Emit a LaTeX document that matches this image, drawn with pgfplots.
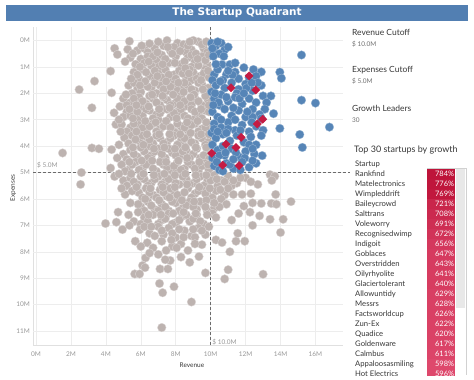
\documentclass[border=0pt]{standalone}
\usepackage{pgfplots}
\pgfplotsset{compat=1.18}
\usepackage{fontspec}
\setmainfont{Lato}
\newfontfamily\titlefont{DejaVu Sans}
\definecolor{grayPt}{RGB}{189,179,176}
\definecolor{bluePt}{RGB}{86,133,183}
\definecolor{redPt}{RGB}{196,28,68}
\definecolor{titleBlue}{RGB}{82,127,178}
\definecolor{tickGray}{RGB}{150,150,150}
\definecolor{txtDark}{RGB}{55,55,55}
\definecolor{txtMid}{RGB}{110,110,110}
\definecolor{cellDark}{RGB}{190,20,58}
\definecolor{cellLight}{RGB}{222,72,108}
\begin{document}
\begin{tikzpicture}
\begin{scope}[x=1bp,y=1bp]
\useasboundingbox (0,0) rectangle (474,379);
\fill[titleBlue] (6,358) rectangle (468,374);
\node[text=white,font=\titlefont\bfseries\fontsize{10.5}{12}\selectfont] at (237,366) {The Startup Quadrant};
\draw[black!12, line width=0.6] (33.4,34) -- (33.4,352);
\draw[black!12, line width=0.6] (33.4,34) -- (343.4,34);
\end{scope}
\begin{axis}[at={(33.4bp,34bp)}, anchor=south west, scale only axis,
  width=310bp, height=318bp,
  xmin=-0.15, xmax=17.6, ymin=-0.51, ymax=11.53, y dir=reverse,
  axis line style={draw=none},
  xtick={0,2,4,6,8,10,12,14,16},
  xticklabels={0M,2M,4M,6M,8M,10M,12M,14M,16M},
  ytick={0,1,2,3,4,5,6,7,8,9,10,11},
  yticklabels={0M,1M,2M,3M,4M,5M,6M,7M,8M,9M,10M,11M},
  tick style={draw=none},
  grid=major, grid style={draw=black!7, line width=0.5bp},
  ticklabel style={font=\fontsize{6.5}{7}\selectfont, text=tickGray},
  xticklabel style={yshift=-3bp},
  clip=false]
\addplot[only marks, mark=*, mark size=4.3bp, mark options={fill=grayPt, draw=white!45!grayPt, line width=0.35bp}] coordinates {
(5.35,0.03) (4.5,0.3) (5.25,0.34) (5.8,0.38) (6.2,0.3) (6.8,0.3) (7.3,0.2) (7.7,0.4) (8.1,0.1) (8.45,0.15) (8.9,0.35) (9.3,0.05) (9.6,0.3) (7.0,0.05) (6.5,0.12) (9.0,0.0) (9.8,0.45) (8.6,0.45) (7.5,0.0) (7.9,0.25) (8.7,0.2) (9.5,0.15) (6.4,0.45)
(4.66,0.53) (5.4,0.65) (5.1,0.8) (6.0,0.7) (6.4,0.6) (6.9,0.75) (7.2,0.55) (7.6,0.85) (8.0,0.6) (8.3,0.9) (8.7,0.65) (9.1,0.8) (9.5,0.6) (9.8,0.95) (7.0,1.0) (6.6,0.95) (8.9,1.0) (6.2,0.85) (6.7,0.6) (7.4,0.7) (7.8,0.5) (8.5,0.8) (8.9,0.55) (9.3,0.95) (9.7,0.75) (5.7,0.9)
(4.27,1.16) (5.6,1.2) (6.1,1.1) (6.5,1.35) (7.0,1.25) (7.4,1.1) (7.9,1.3) (8.2,1.15) (8.6,1.4) (9.0,1.2) (9.4,1.35) (9.7,1.1) (5.9,1.45) (7.7,1.5) (8.9,1.5) (6.8,1.5) (5.8,1.3) (6.3,1.2) (6.8,1.15) (7.2,1.4) (7.6,1.3) (8.0,1.45) (8.4,1.25) (8.8,1.1) (9.2,1.45) (9.6,1.25) (9.9,1.4)
(3.35,1.54) (2.47,1.86) (4.33,1.98) (5.3,1.7) (5.8,1.85) (6.2,1.65) (6.6,1.8) (7.1,1.7) (7.5,1.9) (7.9,1.65) (8.3,1.8) (8.7,1.7) (9.1,1.9) (9.5,1.65) (9.85,1.8) (5.5,2.0) (6.9,2.0) (8.0,2.0) (5.6,1.6) (6.0,1.95) (6.4,1.75) (6.8,1.6) (7.3,1.85) (7.7,1.75) (8.1,1.9) (8.5,1.6) (8.9,1.85) (9.3,1.6) (9.7,1.95)
(3.2,2.55) (5.0,2.2) (5.4,2.35) (5.9,2.15) (6.3,2.4) (6.7,2.2) (7.1,2.45) (7.5,2.25) (7.9,2.4) (8.3,2.1) (8.7,2.35) (9.1,2.2) (9.5,2.45) (9.85,2.25) (6.0,2.5) (8.5,2.5) (4.8,2.5) (5.2,2.45) (5.6,2.2) (6.1,2.3) (6.5,2.1) (6.9,2.35) (7.3,2.15) (7.7,2.45) (8.1,2.2) (8.5,2.3) (8.9,2.45) (9.3,2.3) (9.7,2.1)
(4.47,2.74) (5.2,2.7) (5.6,2.6) (6.1,2.85) (6.5,2.65) (6.9,2.8) (7.3,2.6) (7.7,2.9) (8.1,2.7) (8.5,2.85) (8.9,2.6) (9.3,2.8) (9.7,2.65) (5.8,3.0) (7.0,3.0) (9.0,3.0) (5.0,2.9) (5.4,2.85) (5.8,2.7) (6.3,2.6) (6.7,2.95) (7.1,2.75) (7.5,2.6) (7.9,2.75) (8.3,2.6) (8.7,2.95) (9.1,2.7) (9.5,2.95) (9.9,2.7)
(4.57,3.18) (4.9,3.18) (5.4,3.3) (5.9,3.2) (6.3,3.4) (6.7,3.15) (7.1,3.35) (7.5,3.2) (7.9,3.45) (8.3,3.25) (8.7,3.4) (9.1,3.15) (9.5,3.35) (9.85,3.2) (6.0,3.5) (8.0,3.5) (5.2,3.45) (5.6,3.15) (6.1,3.3) (6.5,3.25) (6.9,3.45) (7.3,3.25) (7.7,3.3) (8.1,3.15) (8.5,3.3) (8.9,3.2) (9.3,3.45) (9.7,3.3)
(5.06,3.68) (5.5,3.6) (5.9,3.8) (6.3,3.65) (6.7,3.9) (7.1,3.7) (7.5,3.85) (7.9,3.6) (8.3,3.8) (8.7,3.65) (9.1,3.9) (9.5,3.7) (9.85,3.85) (6.5,4.0) (8.5,4.0) (5.3,3.9) (5.7,3.75) (6.1,3.6) (6.5,3.75) (6.9,3.6) (7.3,3.9) (7.7,3.7) (8.1,3.95) (8.5,3.7) (8.9,3.85) (9.3,3.6) (9.7,3.95)
(1.52,4.26) (3.2,4.07) (3.6,4.1) (4.33,4.13) (5.0,4.3) (5.4,4.15) (5.8,4.4) (6.2,4.2) (6.6,4.35) (7.0,4.1) (7.4,4.45) (7.8,4.25) (8.2,4.4) (8.6,4.15) (9.0,4.3) (9.4,4.45) (9.8,4.2) (7.2,4.5) (5.2,4.5) (5.6,4.3) (6.0,4.05) (6.4,4.45) (6.8,4.2) (7.2,4.3) (7.6,4.1) (8.0,4.35) (8.4,4.2) (8.8,4.45) (9.2,4.1) (9.6,4.35) (9.9,4.5)
(4.27,4.83) (4.9,4.7) (5.3,4.9) (5.7,4.6) (6.1,4.85) (6.5,4.65) (6.9,4.95) (7.3,4.7) (7.7,4.9) (8.1,4.6) (8.5,4.85) (8.9,4.7) (9.3,4.95) (9.7,4.65) (2.6,5.0) (6.0,5.0) (8.0,5.0) (5.1,4.95) (5.5,4.7) (5.9,4.9) (6.3,4.7) (6.7,4.85) (7.1,4.6) (7.5,4.8) (7.9,4.75) (8.3,4.9) (8.7,4.6) (9.1,4.85) (9.5,4.75) (9.9,4.9)
(4.5,5.15) (2.55,5.45) (5.0,5.3) (5.4,5.2) (5.8,5.45) (6.2,5.25) (6.6,5.4) (7.0,5.15) (7.4,5.35) (7.8,5.2) (8.2,5.45) (8.6,5.25) (9.0,5.4) (9.4,5.15) (9.8,5.35) (10.2,5.1) (10.6,5.3) (11.0,5.15) (11.5,5.4) (12.0,5.2) (12.7,5.45) (13.4,5.08) (13.67,5.14) (13.5,5.3) (10.4,5.5) (11.2,5.5) (5.2,5.5) (5.6,5.35) (6.0,5.15) (6.4,5.5) (6.8,5.25) (7.2,5.45) (7.6,5.25) (8.0,5.4) (8.4,5.15) (8.8,5.45) (9.2,5.25) (9.6,5.5) (10.0,5.3) (10.8,5.35) (11.7,5.2) (12.3,5.35)
(5.1,5.83) (5.88,5.76) (6.3,5.6) (6.7,5.85) (7.1,5.65) (7.5,5.9) (7.9,5.7) (8.3,5.95) (8.7,5.6) (9.1,5.8) (9.5,5.65) (9.85,5.9) (10.3,5.7) (10.8,5.85) (11.3,5.83) (11.8,5.83) (12.3,5.8) (13.72,5.83) (10.6,6.0) (5.5,5.7) (6.1,5.95) (6.5,5.75) (6.9,5.95) (7.3,5.75) (7.7,5.6) (8.1,5.85) (8.5,5.75) (8.9,5.95) (9.3,5.7) (9.7,5.8) (10.1,5.95) (11.0,5.6)
(5.4,6.15) (4.7,6.5) (6.0,6.3) (6.4,6.1) (6.8,6.4) (7.2,6.2) (7.6,6.45) (8.0,6.15) (8.4,6.35) (8.8,6.1) (9.2,6.4) (9.6,6.2) (10.2,6.35) (14.6,6.1) (13.47,6.17) (13.76,6.2) (12.9,6.17) (12.4,6.15) (11.9,6.27) (10.9,6.2) (12.25,6.5) (6.2,6.45) (6.6,6.25) (7.0,6.45) (7.4,6.3) (7.8,6.1) (8.2,6.45) (8.6,6.25) (9.0,6.3) (9.4,6.1) (9.8,6.45) (10.5,6.3)
(4.6,6.88) (3.98,6.93) (5.6,6.85) (6.2,6.7) (6.7,6.6) (7.2,6.8) (7.6,6.55) (8.0,6.9) (8.4,6.65) (8.8,6.85) (9.2,6.6) (9.6,6.95) (10.1,6.55) (11.6,6.55) (11.2,6.8) (12.8,6.64) (13.4,6.77) (14.15,6.77) (12.4,7.0) (6.0,6.95) (6.4,6.85) (7.0,6.95) (7.4,6.75) (7.8,6.95) (8.2,6.8) (8.6,6.6) (9.0,6.75) (9.4,6.85) (9.8,6.6)
(4.95,7.16) (5.95,7.16) (6.5,7.3) (7.0,7.05) (7.6,7.1) (8.0,7.46) (8.5,7.2) (8.9,7.4) (9.3,7.1) (9.7,7.35) (14.0,7.27) (11.55,7.3) (10.3,7.55) (6.2,7.05) (6.8,7.4) (7.3,7.35) (7.8,7.3) (8.2,7.15) (9.1,7.45) (9.5,7.2)
(5.68,7.6) (6.37,7.66) (6.7,7.85) (7.2,7.6) (7.8,7.8) (8.3,7.7) (8.7,7.95) (9.5,7.73) (11.45,7.6) (11.95,7.6) (10.65,7.65) (11.1,8.0)
(6.27,8.23) (6.1,8.52) (7.68,8.33) (8.3,8.2) (9.33,8.18) (7.0,8.1) (8.8,8.4) (6.24,8.6) (5.65,8.84) (5.93,8.84) (7.1,8.65) (7.55,8.65) (9.7,8.8) (11.0,8.68) (10.8,9.03) (13.0,8.85)
(7.07,9.2) (7.9,9.32) (7.25,9.55) (8.9,9.9) (7.2,10.87)
(5.55,0.5) (6.05,0.2) (6.95,0.45) (7.55,0.25) (8.25,0.4) (8.8,0.05) (9.15,0.5) (9.75,0.05)
(5.95,1.0) (6.45,0.8) (7.25,0.9) (7.95,0.85) (8.55,1.05) (9.25,0.7) (9.9,0.55)
(5.45,1.45) (6.25,1.55) (6.95,1.35) (7.45,1.55) (8.15,1.6) (8.75,1.25) (9.45,1.5) (9.85,1.15)
(5.15,2.05) (5.95,1.7) (6.65,2.05) (7.25,2.1) (7.85,2.05) (8.45,1.95) (9.05,2.05) (9.55,1.85)
(5.35,2.6) (5.75,2.45) (6.45,2.5) (7.05,2.6) (7.65,2.55) (8.25,2.45) (8.85,2.15) (9.45,2.6) (9.9,2.45)
(4.75,3.0) (5.55,2.95) (6.25,3.05) (6.85,3.1) (7.45,3.05) (8.05,2.95) (8.65,3.1) (9.25,3.05) (9.75,3.1)
(4.85,3.45) (5.75,3.45) (6.35,3.55) (7.05,3.55) (7.65,3.55) (8.25,3.55) (8.85,3.5) (9.45,3.55) (9.9,3.55)
(4.75,3.95) (5.55,4.05) (6.15,3.95) (6.75,4.1) (7.35,4.05) (7.95,4.1) (8.55,4.05) (9.15,4.05) (9.75,4.05)
(4.65,4.45) (5.35,4.6) (6.05,4.55) (6.65,4.55) (7.45,4.6) (8.15,4.55) (8.65,4.45) (9.35,4.6) (9.85,4.7)
(4.75,5.05) (5.45,5.05) (6.15,5.05) (6.75,5.1) (7.35,5.05) (7.95,5.1) (8.55,5.05) (9.15,5.1) (9.75,5.1) (10.35,5.25) (11.3,5.3)
(4.9,5.6) (5.75,5.55) (6.55,5.6) (7.25,5.55) (7.95,5.55) (8.65,5.45) (9.35,5.55) (9.95,5.6) (10.55,5.65)
(5.85,6.2) (6.25,6.0) (7.05,6.05) (7.65,5.95) (8.35,6.05) (9.05,6.1) (9.75,6.05) (10.2,6.15)
(5.3,6.6) (5.85,6.5) (6.45,6.6) (7.15,6.6) (7.85,6.55) (8.45,6.5) (9.15,6.55) (9.7,6.3) (10.3,6.7)
(5.35,7.0) (6.6,7.05) (7.2,7.2) (7.75,7.55) (8.45,7.45) (9.0,7.15) (9.9,7.05)
(6.0,7.8) (7.45,7.95) (8.05,7.85) (9.1,7.7) (6.5,8.05) (7.4,8.3)
};
\addplot[only marks, mark=*, mark size=4.3bp, mark options={fill=bluePt, draw=white!40!bluePt, line width=0.35bp}] coordinates {
(10.05,0.1) (10.3,0.2) (10.6,0.1) (10.8,0.35) (10.2,0.45) (10.5,0.5) (10.1,0.3) (11.0,0.25) (15.2,0.55) (10.4,0.05) (10.15,0.6) (10.75,0.6)
(10.65,0.91) (11.1,0.91) (10.9,1.29) (10.2,1.29) (10.4,1.1) (11.4,1.2) (11.9,1.03) (12.45,1.1) (12.9,1.19) (11.6,1.45) (12.2,1.4) (10.1,1.5) (10.7,1.5) (13.96,1.2) (14.05,1.43) (10.3,0.9) (11.4,0.85) (11.25,1.3) (12.6,1.35)
(10.3,1.7) (10.8,1.8) (11.2,1.6) (11.6,1.85) (12.0,1.65) (12.4,1.9) (12.9,1.7) (10.05,1.95) (11.5,2.0) (12.05,1.8) (12.7,1.6) (12.35,1.6)
(10.2,2.2) (10.6,2.05) (11.0,2.3) (11.4,2.15) (11.8,2.4) (12.2,2.2) (12.6,2.35) (13.0,2.1) (13.45,2.1) (10.5,2.45) (15.2,2.26) (16.0,2.37) (10.45,2.35) (11.65,2.2) (13.2,2.35)
(10.1,2.7) (10.4,2.9) (10.8,2.6) (11.2,2.85) (11.6,2.65) (12.0,2.9) (12.4,2.6) (13.1,2.6) (13.6,2.77) (12.8,2.8) (12.4,2.9) (12.9,2.95)
(10.2,3.15) (10.6,3.3) (11.0,3.1) (11.4,3.4) (11.8,3.2) (12.2,3.45) (12.6,3.25) (13.0,3.4) (13.96,3.33) (16.8,3.28) (10.05,3.5) (10.2,3.35) (11.0,3.35) (12.35,3.1)
(10.3,3.7) (10.7,3.55) (11.1,3.8) (11.5,3.6) (11.9,3.85) (12.3,3.65) (12.9,3.6) (15.1,3.56) (10.1,3.95) (12.6,3.95) (12.2,3.95)
(10.4,4.15) (10.8,4.35) (11.2,4.1) (11.6,4.4) (12.0,4.2) (12.5,4.3) (12.95,4.36) (15.25,4.05) (10.1,4.45) (11.95,4.45) (11.45,4.25) (10.5,4.35) (12.4,4.1)
(10.2,4.75) (10.5,4.9) (10.9,4.65) (11.3,4.85) (11.8,4.6) (12.2,4.8) (12.6,4.65) (10.7,4.95) (11.1,4.7) (12.4,4.55)
(10.25,2.0) (10.55,1.55) (10.9,2.15) (11.3,2.55) (10.6,3.0) (10.9,3.5) (11.4,3.0) (10.4,3.45) (10.7,4.0) (11.3,4.5) (10.35,4.6) (11.7,3.4) (10.15,2.45) (11.9,2.0) (11.0,1.15) (12.1,2.7) (11.7,4.9) (10.85,4.25)
};
\addplot[only marks, mark=square*, mark size=2.9bp, mark options={rotate=45, fill=redPt, draw=redPt}] coordinates {
(12.2,1.34) (11.17,1.79) (12.58,1.875) (12.98,2.98) (12.67,3.16) (11.74,3.67) (10.88,3.93) (11.45,4.05) (10.06,4.27) (10.69,4.72) (11.63,4.74)
};
\addplot[draw=black!58, line width=1bp, dash pattern=on 3bp off 2bp] coordinates {(10,-0.51) (10,11.53)};
\addplot[draw=black!58, line width=1bp, dash pattern=on 3bp off 2bp] coordinates {(-0.15,5) (18.0,5)};
\node[anchor=south west, inner sep=1bp, font=\fontsize{6.5}{7}\selectfont, text=tickGray] at (axis cs:0.0,4.9) {\$ 5.0M};
\node[anchor=west, inner sep=1bp, font=\fontsize{6.5}{7}\selectfont, text=tickGray] at (axis cs:10.03,11.42) {\$ 10.0M};
\end{axis}
\begin{scope}[x=1bp,y=1bp]
\node[font=\fontsize{6.5}{7}\selectfont, text=txtDark] at (192,14) {Revenue};
\node[font=\fontsize{6.5}{7}\selectfont, text=txtDark, rotate=90] at (13,191) {Expenses};
\node[anchor=base west, inner sep=0, font=\fontsize{8.5}{10}\selectfont, text=txtDark] at (352,344) {Revenue Cutoff};
\node[anchor=base west, inner sep=0, font=\fontsize{6.5}{8}\selectfont, text=txtMid] at (352,333) {\$ 10.0M};
\node[anchor=base west, inner sep=0, font=\fontsize{8.5}{10}\selectfont, text=txtDark] at (352,306.7) {Expenses Cutoff};
\node[anchor=base west, inner sep=0, font=\fontsize{6.5}{8}\selectfont, text=txtMid] at (352,295.3) {\$ 5.0M};
\node[anchor=base west, inner sep=0, font=\fontsize{8.5}{10}\selectfont, text=txtDark] at (352,267.3) {Growth Leaders};
\node[anchor=base west, inner sep=0, font=\fontsize{6.5}{8}\selectfont, text=txtMid] at (352,256.7) {30};
\node[anchor=base west, inner sep=0, font=\fontsize{9}{10}\selectfont, text=txtDark] at (354,227) {Top 30 startups by growth};
\node[anchor=base west, inner sep=0, font=\fontsize{7.7}{9}\selectfont, text=txtDark] at (355,213) {Startup};
\begin{scope}
\clip (345,4) rectangle (470,211);
\fill[black!9] (456,211) rectangle (465,71);
\foreach \n/\v/\p [count=\i from 0] in {Rankfind/784/100, Matelectronics/776/96, Wimpleddrift/769/92, Baileycrowd/721/66, Salttrans/708/59, Voleworry/691/50, Recognisedwimp/672/40, Indigoit/656/31, Goblaces/647/26, Overstridden/643/24, Oilyrhyolite/641/23, Glaciertolerant/640/23, Allowuntidy/629/17, Messrs/628/16, Factsworldcup/626/15, Zun-Ex/622/13, Quadice/620/12, Goldenware/617/10, Calmbus/611/7, Appaloosasmiling/598/0, Hot Electrics/596/0} {
  \fill[cellDark!\p!cellLight] (427.3,{210.3-10*\i}) rectangle (455,{200.3-10*\i});
  \node[anchor=base west, inner sep=0, font=\fontsize{7.7}{9}\selectfont, text=txtDark] at (355,{203-10*\i}) {\n};
  \node[anchor=base east, inner sep=0, font=\fontsize{7.5}{9}\selectfont, text=white] at (454.3,{203-10*\i}) {\v\%};
}
\end{scope}
\draw[black!18, line width=0.6] (427.3,211) -- (466,211) -- (466,4);
\end{scope}
\end{tikzpicture}
\end{document}
